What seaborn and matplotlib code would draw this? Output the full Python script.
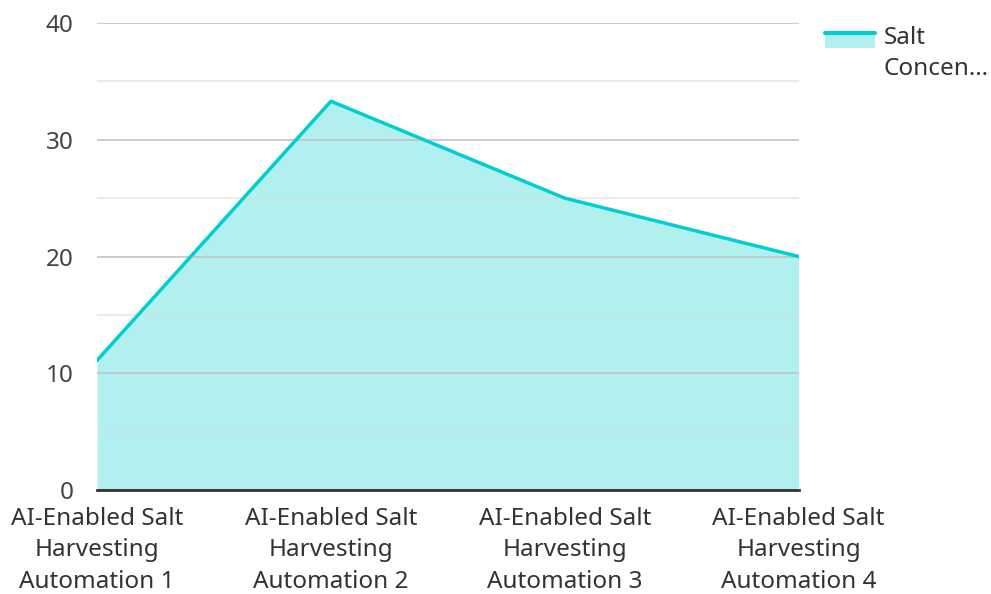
import matplotlib
matplotlib.use("Agg")
import matplotlib.pyplot as plt
import seaborn as sns
import pandas as pd
from matplotlib.patches import Rectangle, Patch
from matplotlib.lines import Line2D
from matplotlib.legend_handler import HandlerBase
from matplotlib.ticker import MultipleLocator

categories = [
    "AI-Enabled Salt\nHarvesting\nAutomation 1",
    "AI-Enabled Salt\nHarvesting\nAutomation 2",
    "AI-Enabled Salt\nHarvesting\nAutomation 3",
    "AI-Enabled Salt\nHarvesting\nAutomation 4",
]
salt_concentration = [11.1, 33.3, 25.0, 20.0]
series_label = "Salt\nConcen…"

line_color = "#00CED1"
fill_color = "#B2EFEF"
font_size = 17.5

sns.set_theme(style="white")
plt.rcParams["font.family"] = ["Noto Sans", "DejaVu Sans"]


class AreaHandler(HandlerBase):
    """Area-style legend key (band with a line on top), raised to the first text line."""

    def create_artists(self, legend, orig_handle, xdescent, ydescent,
                       width, height, fontsize, trans):
        shift = 0.55 * fontsize
        x0 = -xdescent
        y0 = -ydescent + shift
        band = Rectangle((x0, y0), width, height, facecolor=fill_color,
                         edgecolor="none", transform=trans)
        top = Line2D([x0, x0 + width], [y0 + height, y0 + height],
                     color=line_color, linewidth=3, transform=trans)
        return [band, top]


df = pd.DataFrame({"x": range(len(categories)), "y": salt_concentration})

fig = plt.figure(figsize=(9.91, 5.94), dpi=100)
ax = fig.add_axes([0.0979, 0.175, 0.708, 0.7863])

ax.fill_between(df["x"], df["y"], 0, color=fill_color, linewidth=0, zorder=1)
sns.lineplot(data=df, x="x", y="y", ax=ax, color=line_color, linewidth=2.5, zorder=2)

ax.set_xlim(0, len(categories) - 1)
ax.set_ylim(0, 40)
ax.yaxis.set_major_locator(MultipleLocator(10))
ax.yaxis.set_minor_locator(MultipleLocator(5))
ax.set_xticks(range(len(categories)))
ax.set_xticklabels(categories, fontsize=font_size, color="#333333", linespacing=1.42)
ax.tick_params(axis="y", labelsize=font_size, labelcolor="#444444", length=0, pad=17)
ax.tick_params(axis="x", length=0, pad=12)
ax.tick_params(which="minor", length=0)
ax.set_xlabel("")
ax.set_ylabel("")

ax.set_axisbelow("line")
ax.grid(axis="y", which="major", color="#bfbfbf", linewidth=1.3, alpha=0.85)
ax.grid(axis="y", which="minor", color="#d9d9d9", linewidth=1.3, alpha=0.55)
ax.grid(axis="x", visible=False)

for side in ["top", "right", "left"]:
    ax.spines[side].set_visible(False)
ax.spines["bottom"].set_color("#333333")
ax.spines["bottom"].set_linewidth(2)
ax.spines["bottom"].set_zorder(3)

key = Patch(facecolor=fill_color)
leg = fig.legend([key], [series_label], loc="upper left",
                 bbox_to_anchor=(0.8325, 0.957), frameon=False,
                 fontsize=font_size, handlelength=2.05, handleheight=0.6,
                 handletextpad=0.37, borderpad=0, borderaxespad=0,
                 handler_map={Patch: AreaHandler()})
for t in leg.get_texts():
    t.set_color("#333333")
    t.set_linespacing(1.44)

fig.savefig("out.png", dpi=100)
